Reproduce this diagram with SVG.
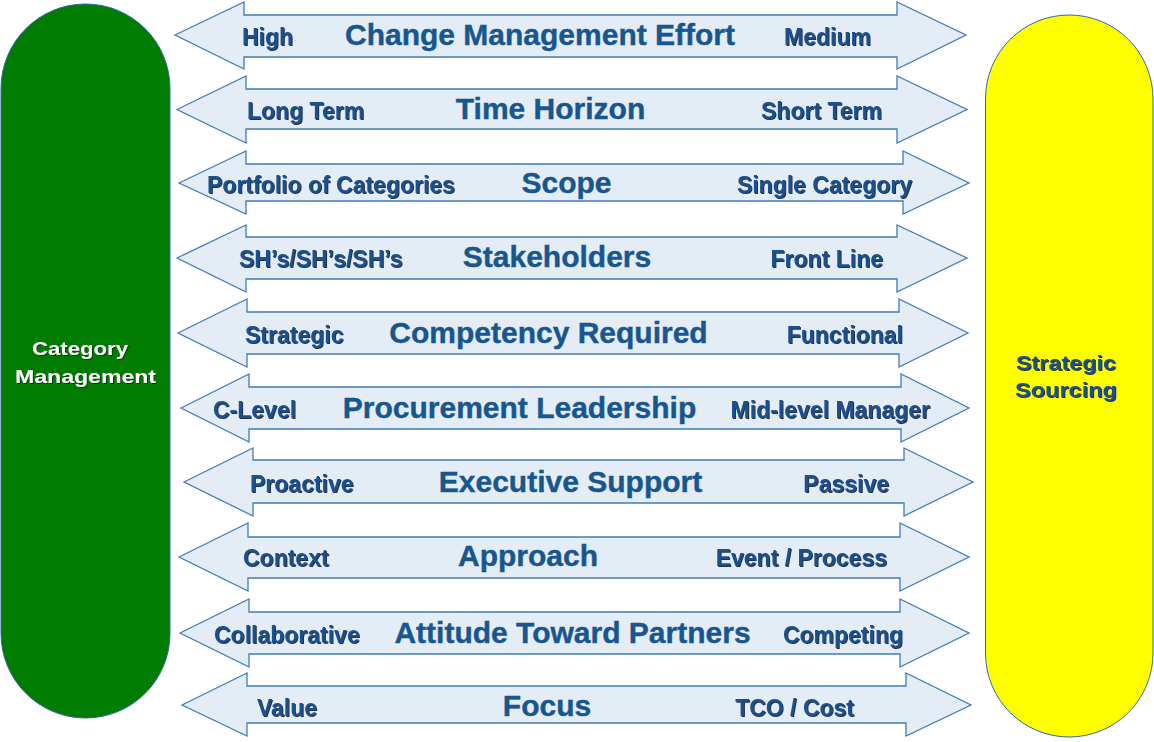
<svg xmlns="http://www.w3.org/2000/svg" width="1154" height="742" viewBox="0 0 1154 742">
<defs>
<filter id="sh" x="-5%" y="-20%" width="110%" height="140%">
<feDropShadow dx="1" dy="1" stdDeviation="0.3" flood-color="#081a30" flood-opacity="0.9"/>
</filter>
<filter id="shw" x="-5%" y="-20%" width="110%" height="140%">
<feDropShadow dx="1" dy="1" stdDeviation="0.3" flood-color="#0a2a1a" flood-opacity="0.9"/>
</filter>
</defs>
<style>
.arr{fill:#e4ecf5;stroke:#3f7cb8;stroke-width:1.3;stroke-linejoin:miter}
.ttl{font-family:"Liberation Sans",Arial,sans-serif;font-weight:bold;font-size:30px;fill:#17568f;stroke:#17568f;stroke-width:0.4;text-anchor:middle}
.lbl{font-family:"Liberation Sans",Arial,sans-serif;font-weight:bold;font-size:23px;fill:#1a4f8c;filter:url(#sh)}
.lr{text-anchor:end}
.pill{font-family:"Liberation Sans",Arial,sans-serif;font-weight:bold}
</style>
<rect width="1154" height="742" fill="#ffffff"/>

<g id="category-management">
<rect x="1" y="4" width="169" height="714" rx="84.5" ry="84.5" fill="#007c00" stroke="#2e6aa0" stroke-width="1"/>
<text class="pill" x="32" y="355" font-size="19" fill="#ffffff" filter="url(#shw)" textLength="96" lengthAdjust="spacingAndGlyphs">Category</text>
<text class="pill" x="15" y="383" font-size="19" fill="#ffffff" filter="url(#shw)" textLength="141" lengthAdjust="spacingAndGlyphs">Management</text>
</g>

<g id="strategic-sourcing">
<rect x="985.5" y="15" width="167.5" height="722" rx="83.75" ry="83.75" fill="#ffff00" stroke="#2e6aa0" stroke-width="1"/>
<text class="pill" x="1016" y="370" font-size="20" fill="#1a4f8c" filter="url(#sh)" textLength="100" lengthAdjust="spacingAndGlyphs">Strategic</text>
<text class="pill" x="1015" y="397" font-size="20" fill="#1a4f8c" filter="url(#sh)" textLength="102" lengthAdjust="spacingAndGlyphs">Sourcing</text>
</g>

<g id="row-change-management-effort">
<path class="arr" d="M175,35 L244,2 L244,15 L897,15 L897,2 L966,35 L897,69 L897,57 L244,57 L244,69 Z"/>
<text class="lbl" x="242" y="45">High</text>
<text class="ttl" x="540" y="45">Change Management Effort</text>
<text class="lbl lr" x="871" y="45">Medium</text>
</g>

<g id="row-time-horizon">
<path class="arr" d="M177,109.5 L246,76 L246,89 L897,89 L897,76 L967,109.5 L897,143 L897,129 L246,129 L246,143 Z"/>
<text class="lbl" x="247" y="119">Long Term</text>
<text class="ttl" x="550.5" y="119">Time Horizon</text>
<text class="lbl lr" x="882" y="119">Short Term</text>
</g>

<g id="row-scope">
<path class="arr" d="M179,183 L246,151 L246,164 L903,164 L903,151 L969,183 L903,214 L903,201 L246,201 L246,214 Z"/>
<text class="lbl" x="207" y="193">Portfolio of Categories</text>
<text class="ttl" x="566.5" y="193">Scope</text>
<text class="lbl lr" x="912" y="193">Single Category</text>
</g>

<g id="row-stakeholders">
<path class="arr" d="M177,258 L246,225 L246,237 L897,237 L897,225 L967,258 L897,292 L897,279 L246,279 L246,292 Z"/>
<text class="lbl" x="239" y="267">SH’s/SH’s/SH’s</text>
<text class="ttl" x="557" y="267">Stakeholders</text>
<text class="lbl lr" x="883" y="267">Front Line</text>
</g>

<g id="row-competency-required">
<path class="arr" d="M178,333 L247,299 L247,312 L899,312 L899,299 L968,333 L899,367 L899,354 L247,354 L247,367 Z"/>
<text class="lbl" x="245" y="343">Strategic</text>
<text class="ttl" x="548.5" y="343">Competency Required</text>
<text class="lbl lr" x="903" y="343">Functional</text>
</g>

<g id="row-procurement-leadership">
<path class="arr" d="M181,408 L249,374 L249,387 L901,387 L901,374 L969,408 L901,442 L901,429 L249,429 L249,442 Z"/>
<text class="lbl" x="213" y="418">C-Level</text>
<text class="ttl" x="519.5" y="418">Procurement Leadership</text>
<text class="lbl lr" x="930" y="418">Mid-level Manager</text>
</g>

<g id="row-executive-support">
<path class="arr" d="M184,482 L253,448 L253,460 L904,460 L904,448 L973,482 L904,516 L904,503 L253,503 L253,516 Z"/>
<text class="lbl" x="250" y="492">Proactive</text>
<text class="ttl" x="570.5" y="492">Executive Support</text>
<text class="lbl lr" x="889" y="492">Passive</text>
</g>

<g id="row-approach">
<path class="arr" d="M179,557 L248,523 L248,537 L900,537 L900,523 L969,557 L900,591 L900,578 L248,578 L248,591 Z"/>
<text class="lbl" x="243" y="566">Context</text>
<text class="ttl" x="528" y="566">Approach</text>
<text class="lbl lr" x="887" y="566">Event / Process</text>
</g>

<g id="row-attitude-toward-partners">
<path class="arr" d="M180,633 L249,599 L249,612 L900,612 L900,599 L969,633 L900,667 L900,654 L249,654 L249,667 Z"/>
<text class="lbl" x="214" y="643">Collaborative</text>
<text class="ttl" x="572.5" y="643">Attitude Toward Partners</text>
<text class="lbl lr" x="903" y="643">Competing</text>
</g>

<g id="row-focus">
<path class="arr" d="M182,705 L247,673 L247,686 L906,686 L906,673 L971,705 L906,736 L906,723 L247,723 L247,736 Z"/>
<text class="lbl" x="257" y="716">Value</text>
<text class="ttl" x="547" y="716">Focus</text>
<text class="lbl lr" x="854" y="716">TCO / Cost</text>
</g>
</svg>
